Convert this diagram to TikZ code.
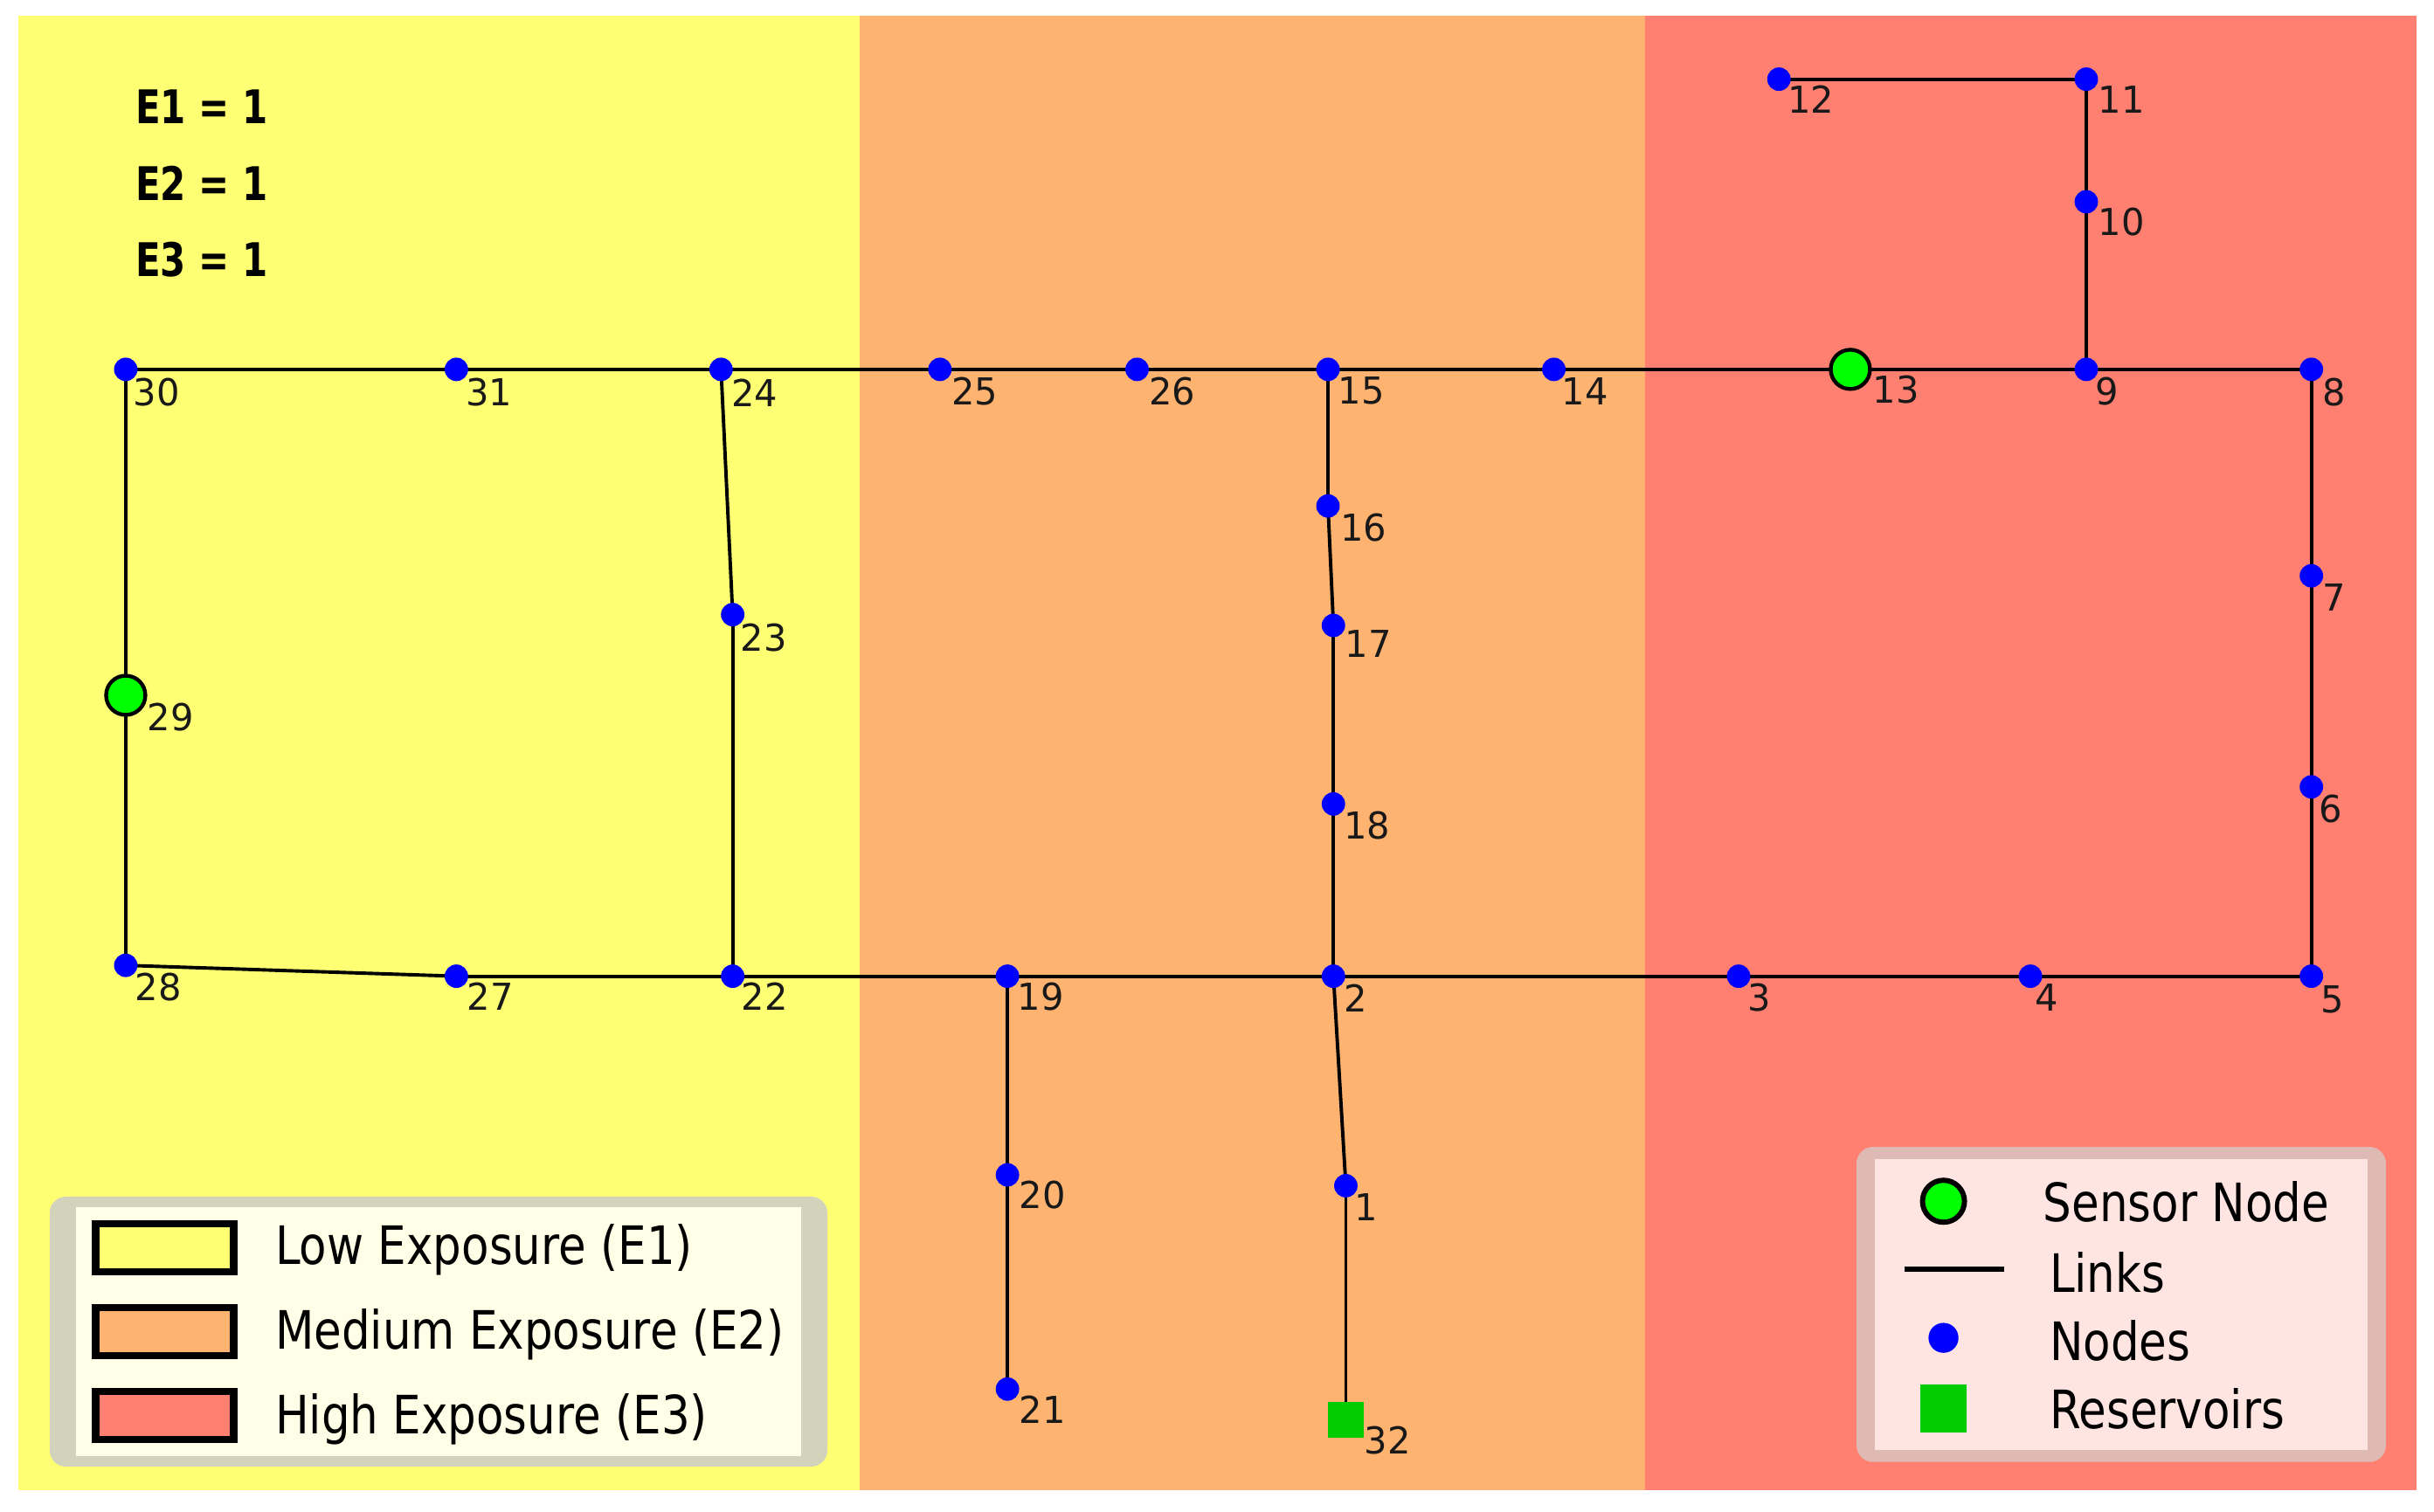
\documentclass[tikz,border=0pt]{standalone}
\usepackage{fontspec}
\setmainfont[FakeStretch=0.85]{DejaVu Sans}
\newfontfamily\statfont[FakeStretch=0.79]{DejaVu Sans Bold}
\newfontfamily\numfont[FakeStretch=0.98]{DejaVu Sans}
\definecolor{zy}{HTML}{FFFF73}
\definecolor{zo}{HTML}{FFB370}
\definecolor{zr}{HTML}{FF7F70}
\definecolor{nb}{HTML}{0000FF}
\definecolor{sg}{HTML}{00FF00}
\definecolor{rg}{HTML}{00CC00}
\definecolor{lyo}{RGB}{211,211,188}
\definecolor{lyi}{RGB}{255,255,232}
\definecolor{lro}{RGB}{223,185,180}
\definecolor{lri}{RGB}{255,229,226}
\pgfdeclarelayer{backl}
\pgfdeclarelayer{linkl}
\pgfsetlayers{backl,linkl,main}
\tikzset{
 netnode/.style={circle,fill=nb,inner sep=0,minimum size=8.6pt},
 sensornode/.style={circle,fill=sg,draw=black,line width=1.4pt,inner sep=0,minimum size=14.4pt},
 resnode/.style={rectangle,fill=rg,inner sep=0,minimum size=13pt},
 link/.style={black,line width=1.25pt},
 numlab/.style={font=\numfont\fontsize{13.6}{15}\selectfont,inner sep=0,text=black!90},
 legtext/.style={font=\fontsize{19.4}{22}\selectfont,inner sep=0,anchor=west},
 swatch/.style={draw=black,line width=2.8pt,fill=#1},
 stat/.style={font=\statfont\fontsize{17}{20}\selectfont,inner sep=0,anchor=west},
}
\begin{document}
\begin{tikzpicture}[x=0.02cm,y=-0.02cm]
\useasboundingbox (0,0) rectangle (1568,974.2);
\begin{pgfonlayer}{backl}
\fill[white] (0,0) rectangle (1568,974.2);
\fill[zy] (12,10) rectangle (554,960);
\fill[zo] (554,10) rectangle (1060,960);
\fill[zr] (1060,10) rectangle (1557,960);
\fill[rounded corners=6pt,lyo] (32,771) rectangle (533,945);
\fill[lyi] (49,778) rectangle (516,938);
\fill[rounded corners=6pt,lro] (1196,739) rectangle (1537,942);
\fill[lri] (1208,747) rectangle (1525,934);
\end{pgfonlayer}
\path[swatch=zy] (61.5,788.5) rectangle (150.5,819.5);
\path[swatch=zo] (61.5,842.5) rectangle (150.5,873.5);
\path[swatch=zr] (61.5,896.5) rectangle (150.5,927.5);
\node[legtext] (t1) at (177,805) {Low Exposure (E1)};
\node[legtext] (t2) at (177,860) {Medium Exposure (E2)};
\node[legtext] (t3) at (177,914.5) {High Exposure (E3)};
\node[stat] (e1) at (87,69) {E1 = 1};
\node[stat] (e2) at (87,118) {E2 = 1};
\node[stat] (e3) at (87,167) {E3 = 1};
\node[sensornode,minimum size=15.4pt,line width=1.9pt] (ls) at (1252,774) {};
\coordinate (la) at (1227,818);
\coordinate (lb) at (1291,818);
\draw[link,line width=1.9pt] (la) -- (lb);
\node[netnode,minimum size=11pt] (ln) at (1252,862) {};
\node[rectangle,fill=rg,inner sep=0,minimum width=17pt,minimum height=17.5pt] (lr) at (1252,907.5) {};
\node[legtext] (r1) at (1316,774.5) {Sensor Node};
\node[legtext] (r2) at (1320,820) {Links};
\node[legtext] (r3) at (1320,864) {Nodes};
\node[legtext] (r4) at (1320,907.5) {Reservoirs};
% nodes
\foreach \n/\x/\y in {1/867/764,2/859/629,3/1120/629,4/1308/629,5/1489/629,6/1489/507,7/1489/371,8/1489/238,9/1344/238,10/1344/130,11/1344/51,12/1146/51,14/1001/238,15/855.5/238,16/855.5/326,17/859/403,18/859/518,19/649/629,20/649/757,21/649/895,22/472/629,23/472/396,24/464.5/238,25/605.5/238,26/732.5/238,27/294/629,28/81/622,30/81/238,31/294/238}
  \node[netnode] (n\n) at (\x,\y) {};
\node[sensornode] (n13) at (1192,238) {};
\node[sensornode] (n29) at (81,448) {};
\node[resnode] (n32) at (867,915) {};
% links
\begin{pgfonlayer}{linkl}
\foreach \a/\b in {32/1,1/2,2/3,3/4,4/5,5/6,6/7,7/8,8/9,9/13,13/14,14/15,15/26,26/25,25/24,24/31,31/30,30/29,29/28,28/27,27/22,22/19,19/2,9/10,10/11,11/12,15/16,16/17,17/18,18/2,19/20,20/21,22/23,23/24}
  \draw[link] (n\a.center) -- (n\b.center);
\end{pgfonlayer}
% labels
\foreach \n/\x/\y in {1/880/778,2/873.5/643,3/1133.5/643,4/1318.5/643,5/1502.5/644,6/1501.5/521,7/1503.5/385,8/1503.5/253,9/1357.5/252,10/1366.5/143,11/1366.5/64,12/1166.5/64,13/1221.5/251,14/1021/252,15/877/252,16/878.5/340,17/881.5/415,18/880.5/532,19/670.5/642,20/671.5/770,21/671.5/908,22/492.5/642,23/492/411,24/486/253,25/628/252,26/755/252,27/316/642,28/102/636,29/110/462,30/101/253,31/315/253,32/894/928}
  \node[numlab] (l\n) at (\x,\y) {\n};
\end{tikzpicture}
\end{document}
